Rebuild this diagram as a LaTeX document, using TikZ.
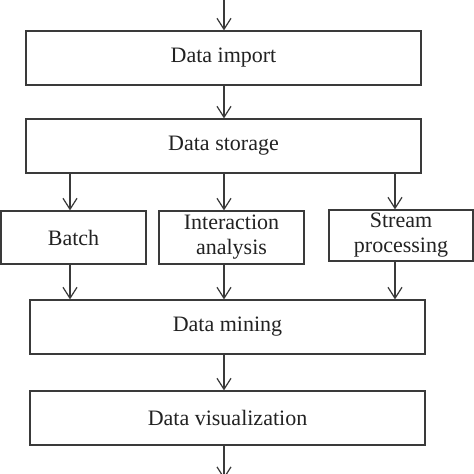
\documentclass[tikz,border=0pt]{standalone}
\usepackage{fontspec}
\setmainfont{Liberation Serif}
\usetikzlibrary{arrows.meta}
\definecolor{ln}{HTML}{3A3A3A}
\definecolor{tx}{HTML}{222222}
\begin{document}
\begin{tikzpicture}[x=1pt,y=-1pt,
  box/.style={draw=ln,line width=1.2pt,rectangle,inner sep=0pt,align=center,
    font=\fontsize{22}{25}\selectfont,text=tx},
  arr/.style={draw=ln,line width=1.2pt,-{Straight Barb[length=11pt,width=14pt,line width=1.2pt]}}]
\useasboundingbox (0,0) rectangle (474,474);
\fill[white] (0,0) rectangle (474,474);
\node[box,minimum width=395pt,minimum height=54pt] (import) at (223.5,58) {Data import};
\node[box,minimum width=395pt,minimum height=54pt] (storage) at (223.5,146) {Data storage};
\node[box,minimum width=145pt,minimum height=53pt] (batch) at (73.5,237.5) {Batch};
\node[box,minimum width=145pt,minimum height=53pt] (inter) at (231.5,237.5) {Interaction\\analysis};
\node[box,minimum width=144pt,minimum height=51pt] (stream) at (401,235.5) {Stream\\processing};
\node[box,minimum width=395pt,minimum height=54pt] (mining) at (227.5,327) {Data mining};
\node[box,minimum width=395pt,minimum height=54pt] (vis) at (227.5,418) {Data visualization};
\coordinate (colA) at (70,0);
\coordinate (colB) at (224,0);
\coordinate (colC) at (395,0);
\coordinate (start) at (224,-2);
\coordinate (finish) at (224,479);
\draw[arr] (start) -- (import.north -| colB);
\draw[arr] (import.south -| colB) -- (storage.north -| colB);
\draw[arr] (storage.south -| colA) -- (batch.north -| colA);
\draw[arr] (storage.south -| colB) -- (inter.north -| colB);
\draw[arr] (storage.south -| colC) -- (stream.north -| colC);
\draw[arr] (batch.south -| colA) -- (mining.north -| colA);
\draw[arr] (inter.south -| colB) -- (mining.north -| colB);
\draw[arr] (stream.south -| colC) -- (mining.north -| colC);
\draw[arr] (mining.south -| colB) -- (vis.north -| colB);
\draw[arr] (vis.south -| colB) -- (finish);
\end{tikzpicture}
\end{document}
